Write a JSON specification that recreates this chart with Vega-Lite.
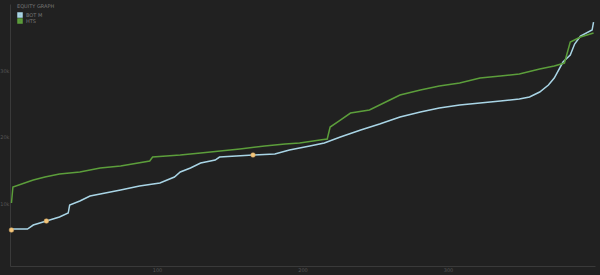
{
  "$schema": "https://vega.github.io/schema/vega-lite/v6.json",
  "width": 585,
  "height": 262,
  "autosize": "none",
  "padding": {"left": 10, "top": 4, "right": 5, "bottom": 9},
  "background": "#212121",
  "config": {
    "view": {"stroke": null},
    "font": "DejaVu Sans",
    "axis": {
      "grid": false,
      "ticks": false,
      "domainColor": "#3a3a3a",
      "labelColor": "#555555",
      "labelFontSize": 5,
      "title": null
    }
  },
  "datasets": {
    "lines": [
      {"series": "BOT M", "t": 0, "equity": 6090},
      {"series": "BOT M", "t": 11, "equity": 6090},
      {"series": "BOT M", "t": 15, "equity": 6692},
      {"series": "BOT M", "t": 24, "equity": 7293},
      {"series": "BOT M", "t": 33, "equity": 7895},
      {"series": "BOT M", "t": 39, "equity": 8496},
      {"series": "BOT M", "t": 40, "equity": 9699},
      {"series": "BOT M", "t": 47, "equity": 10301},
      {"series": "BOT M", "t": 54, "equity": 11053},
      {"series": "BOT M", "t": 61, "equity": 11353},
      {"series": "BOT M", "t": 75, "equity": 11955},
      {"series": "BOT M", "t": 88, "equity": 12556},
      {"series": "BOT M", "t": 102, "equity": 13008},
      {"series": "BOT M", "t": 112, "equity": 13910},
      {"series": "BOT M", "t": 116, "equity": 14662},
      {"series": "BOT M", "t": 123, "equity": 15263},
      {"series": "BOT M", "t": 130, "equity": 16015},
      {"series": "BOT M", "t": 140, "equity": 16466},
      {"series": "BOT M", "t": 143, "equity": 16917},
      {"series": "BOT M", "t": 166, "equity": 17218},
      {"series": "BOT M", "t": 181, "equity": 17368},
      {"series": "BOT M", "t": 191, "equity": 17970},
      {"series": "BOT M", "t": 205, "equity": 18571},
      {"series": "BOT M", "t": 215, "equity": 19023},
      {"series": "BOT M", "t": 226, "equity": 19925},
      {"series": "BOT M", "t": 240, "equity": 20977},
      {"series": "BOT M", "t": 253, "equity": 21880},
      {"series": "BOT M", "t": 267, "equity": 22932},
      {"series": "BOT M", "t": 281, "equity": 23684},
      {"series": "BOT M", "t": 294, "equity": 24286},
      {"series": "BOT M", "t": 308, "equity": 24737},
      {"series": "BOT M", "t": 322, "equity": 25038},
      {"series": "BOT M", "t": 336, "equity": 25338},
      {"series": "BOT M", "t": 349, "equity": 25639},
      {"series": "BOT M", "t": 356, "equity": 25940},
      {"series": "BOT M", "t": 363, "equity": 26692},
      {"series": "BOT M", "t": 369, "equity": 27744},
      {"series": "BOT M", "t": 373, "equity": 28797},
      {"series": "BOT M", "t": 379, "equity": 31203},
      {"series": "BOT M", "t": 384, "equity": 32256},
      {"series": "BOT M", "t": 387, "equity": 33910},
      {"series": "BOT M", "t": 391, "equity": 35113},
      {"series": "BOT M", "t": 399, "equity": 36015},
      {"series": "BOT M", "t": 400, "equity": 37218},
      {"series": "HTS", "t": 0, "equity": 10000},
      {"series": "HTS", "t": 1, "equity": 12406},
      {"series": "HTS", "t": 11, "equity": 13158},
      {"series": "HTS", "t": 15, "equity": 13459},
      {"series": "HTS", "t": 23, "equity": 13910},
      {"series": "HTS", "t": 33, "equity": 14361},
      {"series": "HTS", "t": 47, "equity": 14662},
      {"series": "HTS", "t": 61, "equity": 15263},
      {"series": "HTS", "t": 75, "equity": 15564},
      {"series": "HTS", "t": 95, "equity": 16316},
      {"series": "HTS", "t": 97, "equity": 16917},
      {"series": "HTS", "t": 116, "equity": 17218},
      {"series": "HTS", "t": 130, "equity": 17519},
      {"series": "HTS", "t": 157, "equity": 18120},
      {"series": "HTS", "t": 174, "equity": 18571},
      {"series": "HTS", "t": 188, "equity": 18872},
      {"series": "HTS", "t": 198, "equity": 19023},
      {"series": "HTS", "t": 212, "equity": 19474},
      {"series": "HTS", "t": 217, "equity": 19624},
      {"series": "HTS", "t": 219, "equity": 21429},
      {"series": "HTS", "t": 226, "equity": 22481},
      {"series": "HTS", "t": 233, "equity": 23534},
      {"series": "HTS", "t": 246, "equity": 23985},
      {"series": "HTS", "t": 260, "equity": 25489},
      {"series": "HTS", "t": 267, "equity": 26241},
      {"series": "HTS", "t": 281, "equity": 26992},
      {"series": "HTS", "t": 294, "equity": 27594},
      {"series": "HTS", "t": 308, "equity": 28045},
      {"series": "HTS", "t": 322, "equity": 28797},
      {"series": "HTS", "t": 336, "equity": 29098},
      {"series": "HTS", "t": 349, "equity": 29398},
      {"series": "HTS", "t": 363, "equity": 30150},
      {"series": "HTS", "t": 373, "equity": 30602},
      {"series": "HTS", "t": 380, "equity": 31053},
      {"series": "HTS", "t": 384, "equity": 34211},
      {"series": "HTS", "t": 391, "equity": 34962},
      {"series": "HTS", "t": 400, "equity": 35564}
    ],
    "dots": [
      {"t": 0, "equity": 5940},
      {"t": 24, "equity": 7293},
      {"t": 166, "equity": 17218}
    ]
  },
  "layer": [
    {
      "data": {"name": "lines"},
      "mark": {"type": "line", "strokeWidth": 1.5},
      "encoding": {
        "x": {
          "field": "t",
          "type": "quantitative",
          "scale": {"domain": [-1, 401], "nice": false, "zero": false},
          "axis": {"values": [100, 200, 300], "labelPadding": 1}
        },
        "y": {
          "field": "equity",
          "type": "quantitative",
          "scale": {"domain": [530, 39930], "nice": false, "zero": false},
          "axis": {"values": [10000, 20000, 30000], "format": "~s", "labelPadding": 1}
        },
        "color": {
          "field": "series",
          "type": "nominal",
          "scale": {"domain": ["BOT M", "HTS"], "range": ["#a9d5e6", "#5c9e3b"]},
          "legend": {
            "title": "EQUITY GRAPH",
            "orient": "none",
            "legendX": 7,
            "legendY": 0,
            "symbolType": "square",
            "symbolSize": 9,
            "symbolStrokeWidth": 2.5,
            "clipHeight": 6,
            "labelFontSize": 5,
            "labelColor": "#777777",
            "titleFontSize": 5,
            "titleFontWeight": "normal",
            "titleColor": "#777777",
            "titlePadding": 3,
            "rowPadding": 0,
            "labelOffset": 3
          }
        }
      }
    },
    {
      "data": {"name": "dots"},
      "mark": {"type": "circle", "size": 22, "color": "#f4c57a", "opacity": 1, "stroke": "#c9a060", "strokeWidth": 0.5},
      "encoding": {
        "x": {"field": "t", "type": "quantitative"},
        "y": {"field": "equity", "type": "quantitative"}
      }
    }
  ]
}
